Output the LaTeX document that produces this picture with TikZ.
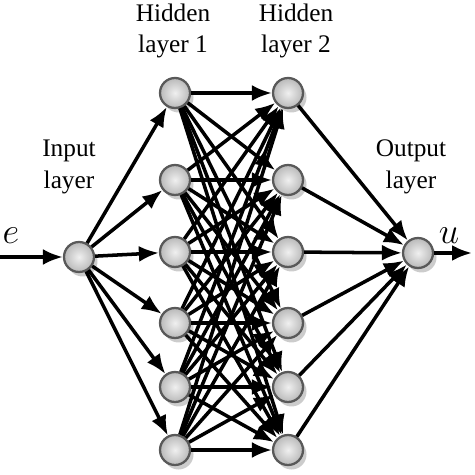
\documentclass[tikz,border=0pt]{standalone}
\usepackage{fontspec}
\setmainfont{Liberation Serif}
\usetikzlibrary{positioning, arrows.meta, shadows}

\begin{document}
\begin{tikzpicture}[x=0.02cm, y=-0.02cm,
  neuron/.style={circle, draw=gray!70!black, line width=1.3pt, minimum size=0.6cm, inner sep=0pt,
    shading=radial, inner color=gray!12, outer color=gray!55,
    drop shadow={shadow xshift=0.07cm, shadow yshift=-0.09cm, fill=gray!40, opacity=1}},
  link/.style={line width=2pt, -{Latex[length=0.4cm, width=0.32cm]}},
  layer label/.style={font=\Large, align=center}]

\useasboundingbox (0,0) rectangle (474,475);

% neurons
\node[neuron] (in) at (79,257) {};
\node[neuron] (out) at (418,253) {};
\foreach \y [count=\i] in {93,180,252,323,387,450} {
  \node[neuron] (hA\i) at (175,\y) {};
  \node[neuron] (hB\i) at (288,\y) {};
}

\coordinate (e) at (0,257);
\coordinate (u) at (472,253);

% labels
\node[layer label] (lblA) at (173,31) {Hidden\\layer 1};
\node[layer label] (lblB) at (296,31) {Hidden\\layer 2};
\node[layer label] (lblIn) at (69,167) {Input\\layer};
\node[layer label] (lblOut) at (411,167) {Output\\layer};
\node[font=\huge] (le) at (11,236) {$e$};
\node[font=\huge] (lu) at (449,236) {$u$};

% weights
\draw[link] (e) -- (in);
\draw[link] (out) -- (u);
\foreach \i in {1,...,6} {
  \draw[link] (in) -- (hA\i);
  \draw[link] (hB\i) -- (out);
  \foreach \j in {1,...,6}
    \draw[link] (hA\i) -- (hB\j);
}

\end{tikzpicture}
\end{document}
